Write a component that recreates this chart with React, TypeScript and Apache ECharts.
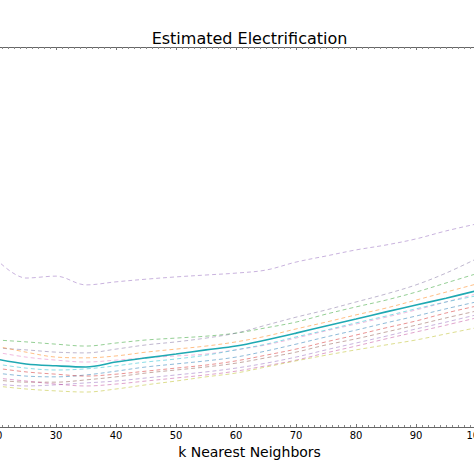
import React, { useEffect, useRef } from "react";
import * as echarts from "echarts";

const kValues = [20, 25, 30, 35, 40, 45, 50, 55, 60, 65, 70, 75, 80, 85, 90, 95, 100];
const xTickLabels = ["20", "30", "40", "50", "60", "70", "80", "90", "100"];

const meanSeries = [17.9, 16.6, 16.1, 15.8, 17.1, 18.2, 19.2, 20.3, 21.3, 22.9, 24.7, 26.6, 28.4, 30.3, 32.1, 33.9, 35.8];
const purpleTop = [44.2, 39.2, 39.7, 37.4, 38.2, 38.9, 39.5, 40.0, 40.5, 41.3, 43.4, 45.0, 46.6, 47.9, 49.5, 51.6, 53.4];
const greenRun = [22.9, 22.4, 21.8, 21.3, 22.1, 22.9, 23.4, 23.9, 24.7, 26.1, 27.6, 29.7, 31.6, 33.4, 35.5, 37.9, 40.3];
const grayRun = [20.8, 20.3, 19.7, 19.5, 20.5, 21.6, 22.4, 23.4, 24.7, 26.8, 28.9, 30.8, 32.9, 35.0, 37.4, 40.5, 44.2];
const orangeRun = [21.3, 19.7, 18.4, 18.2, 18.7, 19.7, 20.5, 21.3, 22.4, 23.9, 25.8, 27.6, 29.5, 31.3, 33.4, 35.5, 37.6];
const pinkRun = [19.7, 18.4, 17.6, 17.1, 17.6, 18.2, 18.7, 19.2, 20.3, 21.6, 23.4, 25.3, 27.1, 28.9, 30.8, 32.9, 35.0];
const cyanRun = [16.6, 15.5, 15.0, 15.3, 16.1, 17.1, 17.9, 18.9, 20.3, 21.8, 23.7, 25.5, 27.4, 29.2, 31.1, 32.9, 34.5];
const blueRun = [14.2, 13.4, 13.2, 13.7, 14.7, 15.8, 16.6, 17.4, 18.4, 20.0, 21.8, 23.7, 25.5, 27.4, 29.2, 31.1, 32.9];
const redRun = [15.5, 14.5, 13.9, 13.4, 13.9, 14.7, 15.5, 16.3, 17.4, 18.9, 20.5, 22.4, 24.2, 26.1, 27.9, 30.0, 31.8];
const brownRun = [12.4, 11.8, 11.8, 12.4, 13.2, 14.2, 15.0, 15.8, 16.8, 18.2, 19.7, 21.6, 23.2, 25.0, 26.8, 28.7, 30.5];
const purpleRun = [11.3, 10.8, 11.1, 11.6, 12.1, 12.9, 13.7, 14.5, 15.5, 16.8, 18.4, 20.3, 22.1, 23.9, 25.8, 27.6, 29.5];
const magentaRun = [12.9, 12.1, 11.3, 10.8, 11.3, 12.1, 12.9, 13.7, 14.7, 16.1, 17.6, 19.5, 21.3, 23.2, 25.0, 26.8, 28.7];
const oliveRun = [10.8, 10.0, 9.5, 9.2, 10.0, 11.1, 12.1, 13.2, 14.2, 15.8, 17.4, 18.9, 20.3, 21.6, 22.9, 24.5, 26.1];

const dashedRuns: { name: string; values: number[]; color: string }[] = [
  { name: "run 1", values: purpleTop, color: "#9467bd" },
  { name: "run 2", values: greenRun, color: "#2ca02c" },
  { name: "run 3", values: grayRun, color: "#7f6fa0" },
  { name: "run 4", values: orangeRun, color: "#ff7f0e" },
  { name: "run 5", values: pinkRun, color: "#e377c2" },
  { name: "run 6", values: cyanRun, color: "#17becf" },
  { name: "run 7", values: blueRun, color: "#1f77b4" },
  { name: "run 8", values: redRun, color: "#d62728" },
  { name: "run 9", values: brownRun, color: "#8c564b" },
  { name: "run 10", values: purpleRun, color: "#9467bd" },
  { name: "run 11", values: magentaRun, color: "#c2499b" },
  { name: "run 12", values: oliveRun, color: "#bcbd22" },
];

const OFFSET = 40;

export default function App() {
  const ref = useRef<HTMLDivElement>(null);
  useEffect(() => {
    if (!ref.current) return;
    const chart = echarts.init(ref.current, undefined, { renderer: "svg" });
    const axisCommon = {
      type: "value" as const,
      min: 20,
      max: 104.5,
      interval: 10,
      axisLine: { show: true, lineStyle: { color: "#666", width: 1 } },
      axisTick: { show: true, inside: true, length: 3, lineStyle: { color: "#777" } },
      minorTick: { show: true, splitNumber: 10, length: 2, lineStyle: { color: "#888" } },
      splitLine: { show: false },
      minorSplitLine: { show: false },
    };
    const series: any[] = dashedRuns.map((r) => ({
      name: r.name,
      type: "line",
      data: kValues.map((k, i) => [k, r.values[i]]),
      showSymbol: false,
      smooth: 0.35,
      lineStyle: { color: r.color, width: 1, type: [4, 3], opacity: 0.5 },
      xAxisIndex: 0,
    }));
    series.push({
      name: "mean",
      type: "line",
      data: kValues.map((k, i) => [k, meanSeries[i]]),
      showSymbol: false,
      smooth: 0.35,
      lineStyle: { color: "#1fa9b3", width: 1.6 },
      xAxisIndex: 0,
      z: 5,
    });
    chart.setOption({
      animation: false,
      grid: { left: OFFSET - 4, right: 554 - (503 + OFFSET), top: 47, bottom: 47 },
      xAxis: [
        {
          ...axisCommon,
          position: "bottom",
          name: "k Nearest Neighbors",
          nameLocation: "middle",
          nameGap: 14,
          nameTextStyle: { fontFamily: "DejaVu Sans", fontSize: 14, color: "#000" },
          axisLabel: {
            show: true,
            margin: 3,
            fontFamily: "DejaVu Sans",
            fontSize: 10,
            color: "#000",
            formatter: (v: number) => (xTickLabels.includes(String(v)) ? String(v) : ""),
          },
        },
        {
          ...axisCommon,
          position: "top",
          axisLabel: { show: false },
        },
      ],
      yAxis: { type: "value", min: 0, max: 100, show: false },
      graphic: [
        {
          type: "text",
          x: 249.5 + OFFSET,
          y: 38.5,
          style: {
            text: "Estimated Electrification",
            fontFamily: "DejaVu Sans",
            fontSize: 16,
            fill: "#000",
            textAlign: "center",
            textVerticalAlign: "middle",
          },
        },
      ],
      series,
    });
    return () => chart.dispose();
  }, []);
  return (
    <div style={{ position: "fixed", left: 0, top: 0, width: 474, height: 474, overflow: "hidden", background: "#fff" }}>
      <div ref={ref} style={{ position: "absolute", left: -OFFSET, top: 0, width: 554, height: 474 }} />
    </div>
  );
}
